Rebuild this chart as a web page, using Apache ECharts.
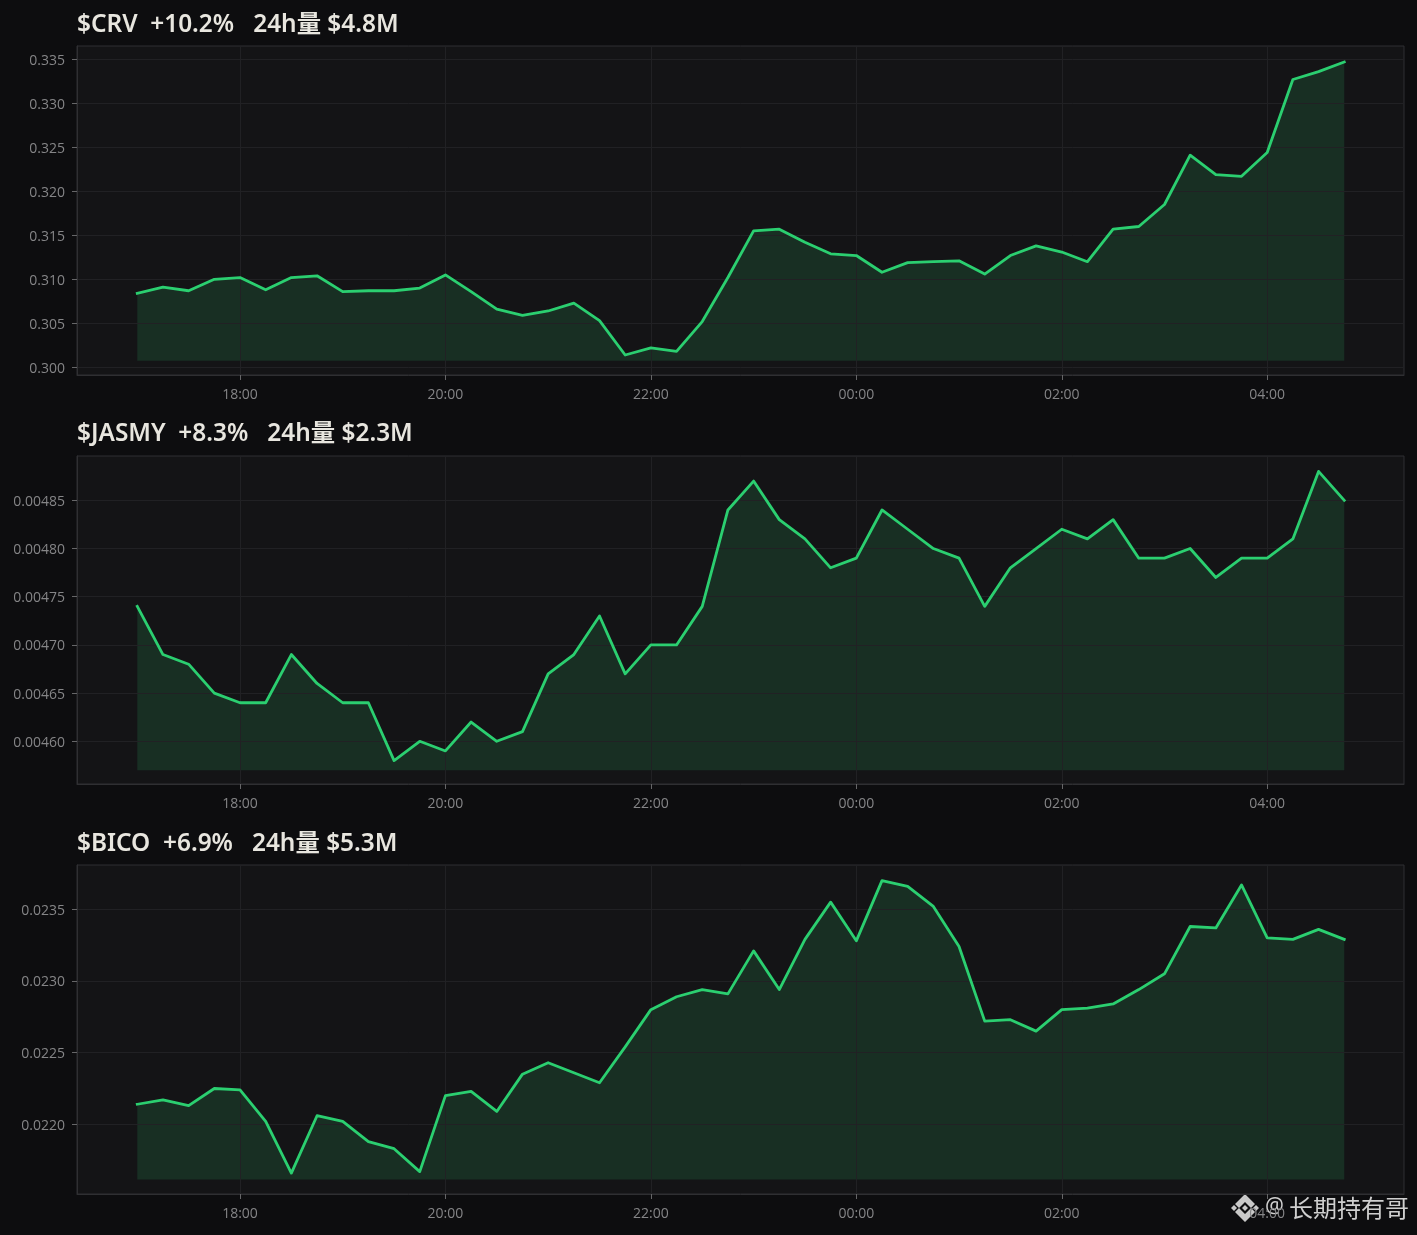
<!DOCTYPE html>
<html>
<head>
<meta charset="utf-8">
<style>html,body{margin:0;padding:0;background:#0d0d0f}#c{width:1417px;height:1235px}</style>
<script src="https://cdn.jsdelivr.net/npm/echarts@6/dist/echarts.min.js"></script>
</head>
<body>
<div id="c"></div>
<script>
const times = ["17:00","17:15","17:30","17:45","18:00","18:15","18:30","18:45","19:00","19:15","19:30","19:45","20:00","20:15","20:30","20:45","21:00","21:15","21:30","21:45","22:00","22:15","22:30","22:45","23:00","23:15","23:30","23:45","00:00","00:15","00:30","00:45","01:00","01:15","01:30","01:45","02:00","02:15","02:30","02:45","03:00","03:15","03:30","03:45","04:00","04:15","04:30","04:45"];
const xTickLabels = ["18:00","20:00","22:00","00:00","02:00","04:00"];

const crvValues = [.3084,.3091,.3087,.3100,.3102,.3088,.3102,.3104,.3086,.3087,.3087,.3090,.3105,.3086,.3066,.3059,.3064,.3073,.3053,.3014,.3022,.3018,.3052,.3102,.3155,.3157,.3142,.3129,.3127,.3108,.3119,.3120,.3121,.3106,.3127,.3138,.3131,.3120,.3157,.3160,.3185,.3241,.3219,.3217,.3244,.3327,.3336,.3347];
const jasmyValues = [.00474,.00469,.00468,.00465,.00464,.00464,.00469,.00466,.00464,.00464,.00458,.00460,.00459,.00462,.00460,.00461,.00467,.00469,.00473,.00467,.00470,.00470,.00474,.00484,.00487,.00483,.00481,.00478,.00479,.00484,.00482,.00480,.00479,.00474,.00478,.00480,.00482,.00481,.00483,.00479,.00479,.00480,.00477,.00479,.00479,.00481,.00488,.00485];
const bicoValues = [.02214,.02217,.02213,.02225,.02224,.02202,.02166,.02206,.02202,.02188,.02183,.02167,.02220,.02223,.02209,.02235,.02243,.02236,.02229,.02254,.02280,.02289,.02294,.02291,.02321,.02294,.02329,.02355,.02328,.02370,.02366,.02352,.02324,.02272,.02273,.02265,.02280,.02281,.02284,.02294,.02305,.02338,.02337,.02367,.02330,.02329,.02336,.02329];

const crvTicks = [.300,.305,.310,.315,.320,.325,.330,.335];
const jasmyTicks = [.00460,.00465,.00470,.00475,.00480,.00485];
const bicoTicks = [.0220,.0225,.0230,.0235];

const titles = ["$CRV  +10.2%   24h量 $4.8M","$JASMY  +8.3%   24h量 $2.3M","$BICO  +6.9%   24h量 $5.3M"];

const toHours = s => { const [h,m] = s.split(":").map(Number); return ((h + 24 - 17) % 24) + m / 60; };
const xs = times.map(toHours);
const xTicks = xTickLabels.map(toHours);

const panels = [
  {values: crvValues, ticks: crvTicks, digits: 3, min: .299125, max: .336511, base: .30075, top: 46, height: 329, title: titles[0], ty: 11},
  {values: jasmyValues, ticks: jasmyTicks, digits: 5, min: .0045557, max: .004896, base: .00457, top: 456, height: 328, title: titles[1], ty: 420},
  {values: bicoValues, ticks: bicoTicks, digits: 4, min: .021514, max: .023809, base: .021616, top: 865, height: 329, title: titles[2], ty: 830}
];

const bg = "#0d0d0f", plot = "#141416", frame = "#2f2f32", gridc = "#212124", tickc = "#666668", labelc = "#858587", green = "#2ecc71", lineGreen = "#2bcf70";
const font = "'Open Sans','Noto Sans','Noto Sans CJK SC',sans-serif";

const option = {
  animation: false,
  backgroundColor: bg,
  title: panels.map(p => ({
    text: p.title, left: 77, top: p.ty, padding: 0,
    textStyle: {color: "#e8e6df", fontSize: 24.4, fontWeight: 600, fontFamily: "'Noto Sans','Noto Sans CJK SC',sans-serif", lineHeight: 28}
  })),
  grid: panels.map(p => ({
    left: 77, width: 1327, top: p.top, height: p.height, show: true,
    backgroundColor: plot, borderColor: frame, borderWidth: 1
  })),
  xAxis: panels.map((p, i) => ({
    type: "value", gridIndex: i, min: -0.5868, max: 12.3318, z: 3,
    axisLine: {show: true, onZero: false, lineStyle: {color: frame, width: 1}},
    axisTick: {show: true, length: 5, customValues: xTicks, lineStyle: {color: tickc}},
    axisLabel: {
      show: true, customValues: xTicks, margin: 13, color: labelc, fontSize: 14, fontFamily: font,
      formatter: v => xTickLabels[xTicks.findIndex(t => Math.abs(t - v) < 1e-6)]
    },
    splitLine: {show: true, lineStyle: {color: gridc, width: 1}}
  })),
  yAxis: panels.map((p, i) => ({
    type: "value", gridIndex: i, min: p.min, max: p.max, z: 3,
    axisLine: {show: true, onZero: false, lineStyle: {color: frame, width: 1}},
    axisTick: {show: true, length: 5, customValues: p.ticks, lineStyle: {color: tickc}},
    axisLabel: {
      show: true, customValues: p.ticks, margin: 12, verticalAlign: "top", lineHeight: 3, color: labelc, fontSize: 14, fontFamily: font,
      formatter: v => v.toFixed(p.digits)
    },
    splitLine: {show: true, lineStyle: {color: gridc, width: 1}}
  })),
  series: panels.flatMap((p, i) => {
    const data = xs.map((x, k) => [x, p.values[k]]);
    return [
      {type: "line", xAxisIndex: i, yAxisIndex: i, symbol: "none", silent: true, z: 1, data,
       lineStyle: {width: 0}, areaStyle: {color: green, opacity: 0.15, origin: p.base}},
      {type: "line", xAxisIndex: i, yAxisIndex: i, symbol: "none", silent: true, z: 5, data,
       lineStyle: {color: lineGreen, width: 2.8, join: "round", cap: "square"}}
    ];
  }),
  graphic: [
    {type: "group", left: 1231, top: 1194, silent: true, children: [
      {type: "polygon", shape: {points: [[14,0],[24,10],[20,14],[14,8],[8,14],[4,10]]}, style: {fill: "#c9c9c9"}},
      {type: "polygon", shape: {points: [[14,28],[24,18],[20,14],[14,20],[8,14],[4,18]]}, style: {fill: "#c9c9c9"}},
      {type: "polygon", shape: {points: [[0,14],[3,11],[6,14],[3,17]]}, style: {fill: "#c9c9c9"}},
      {type: "polygon", shape: {points: [[22,14],[25,11],[28,14],[25,17]]}, style: {fill: "#c9c9c9"}},
      {type: "polygon", shape: {points: [[14,11],[17,14],[14,17],[11,14]]}, style: {fill: "#c9c9c9"}}
    ]},
    {type: "text", left: 1265, top: 1197, silent: true, style: {text: "@", fill: "#cfcfcf", fontSize: 21, fontFamily: "'Noto Sans',sans-serif"}},
    {type: "text", left: 1289, top: 1196, silent: true, style: {text: "长期持有哥", fill: "#cfcfcf", fontSize: 24, fontFamily: "'Noto Sans CJK SC',sans-serif"}}
  ]
};
echarts.init(document.getElementById("c"), null, {renderer: "canvas"}).setOption(option);
</script>
</body>
</html>
